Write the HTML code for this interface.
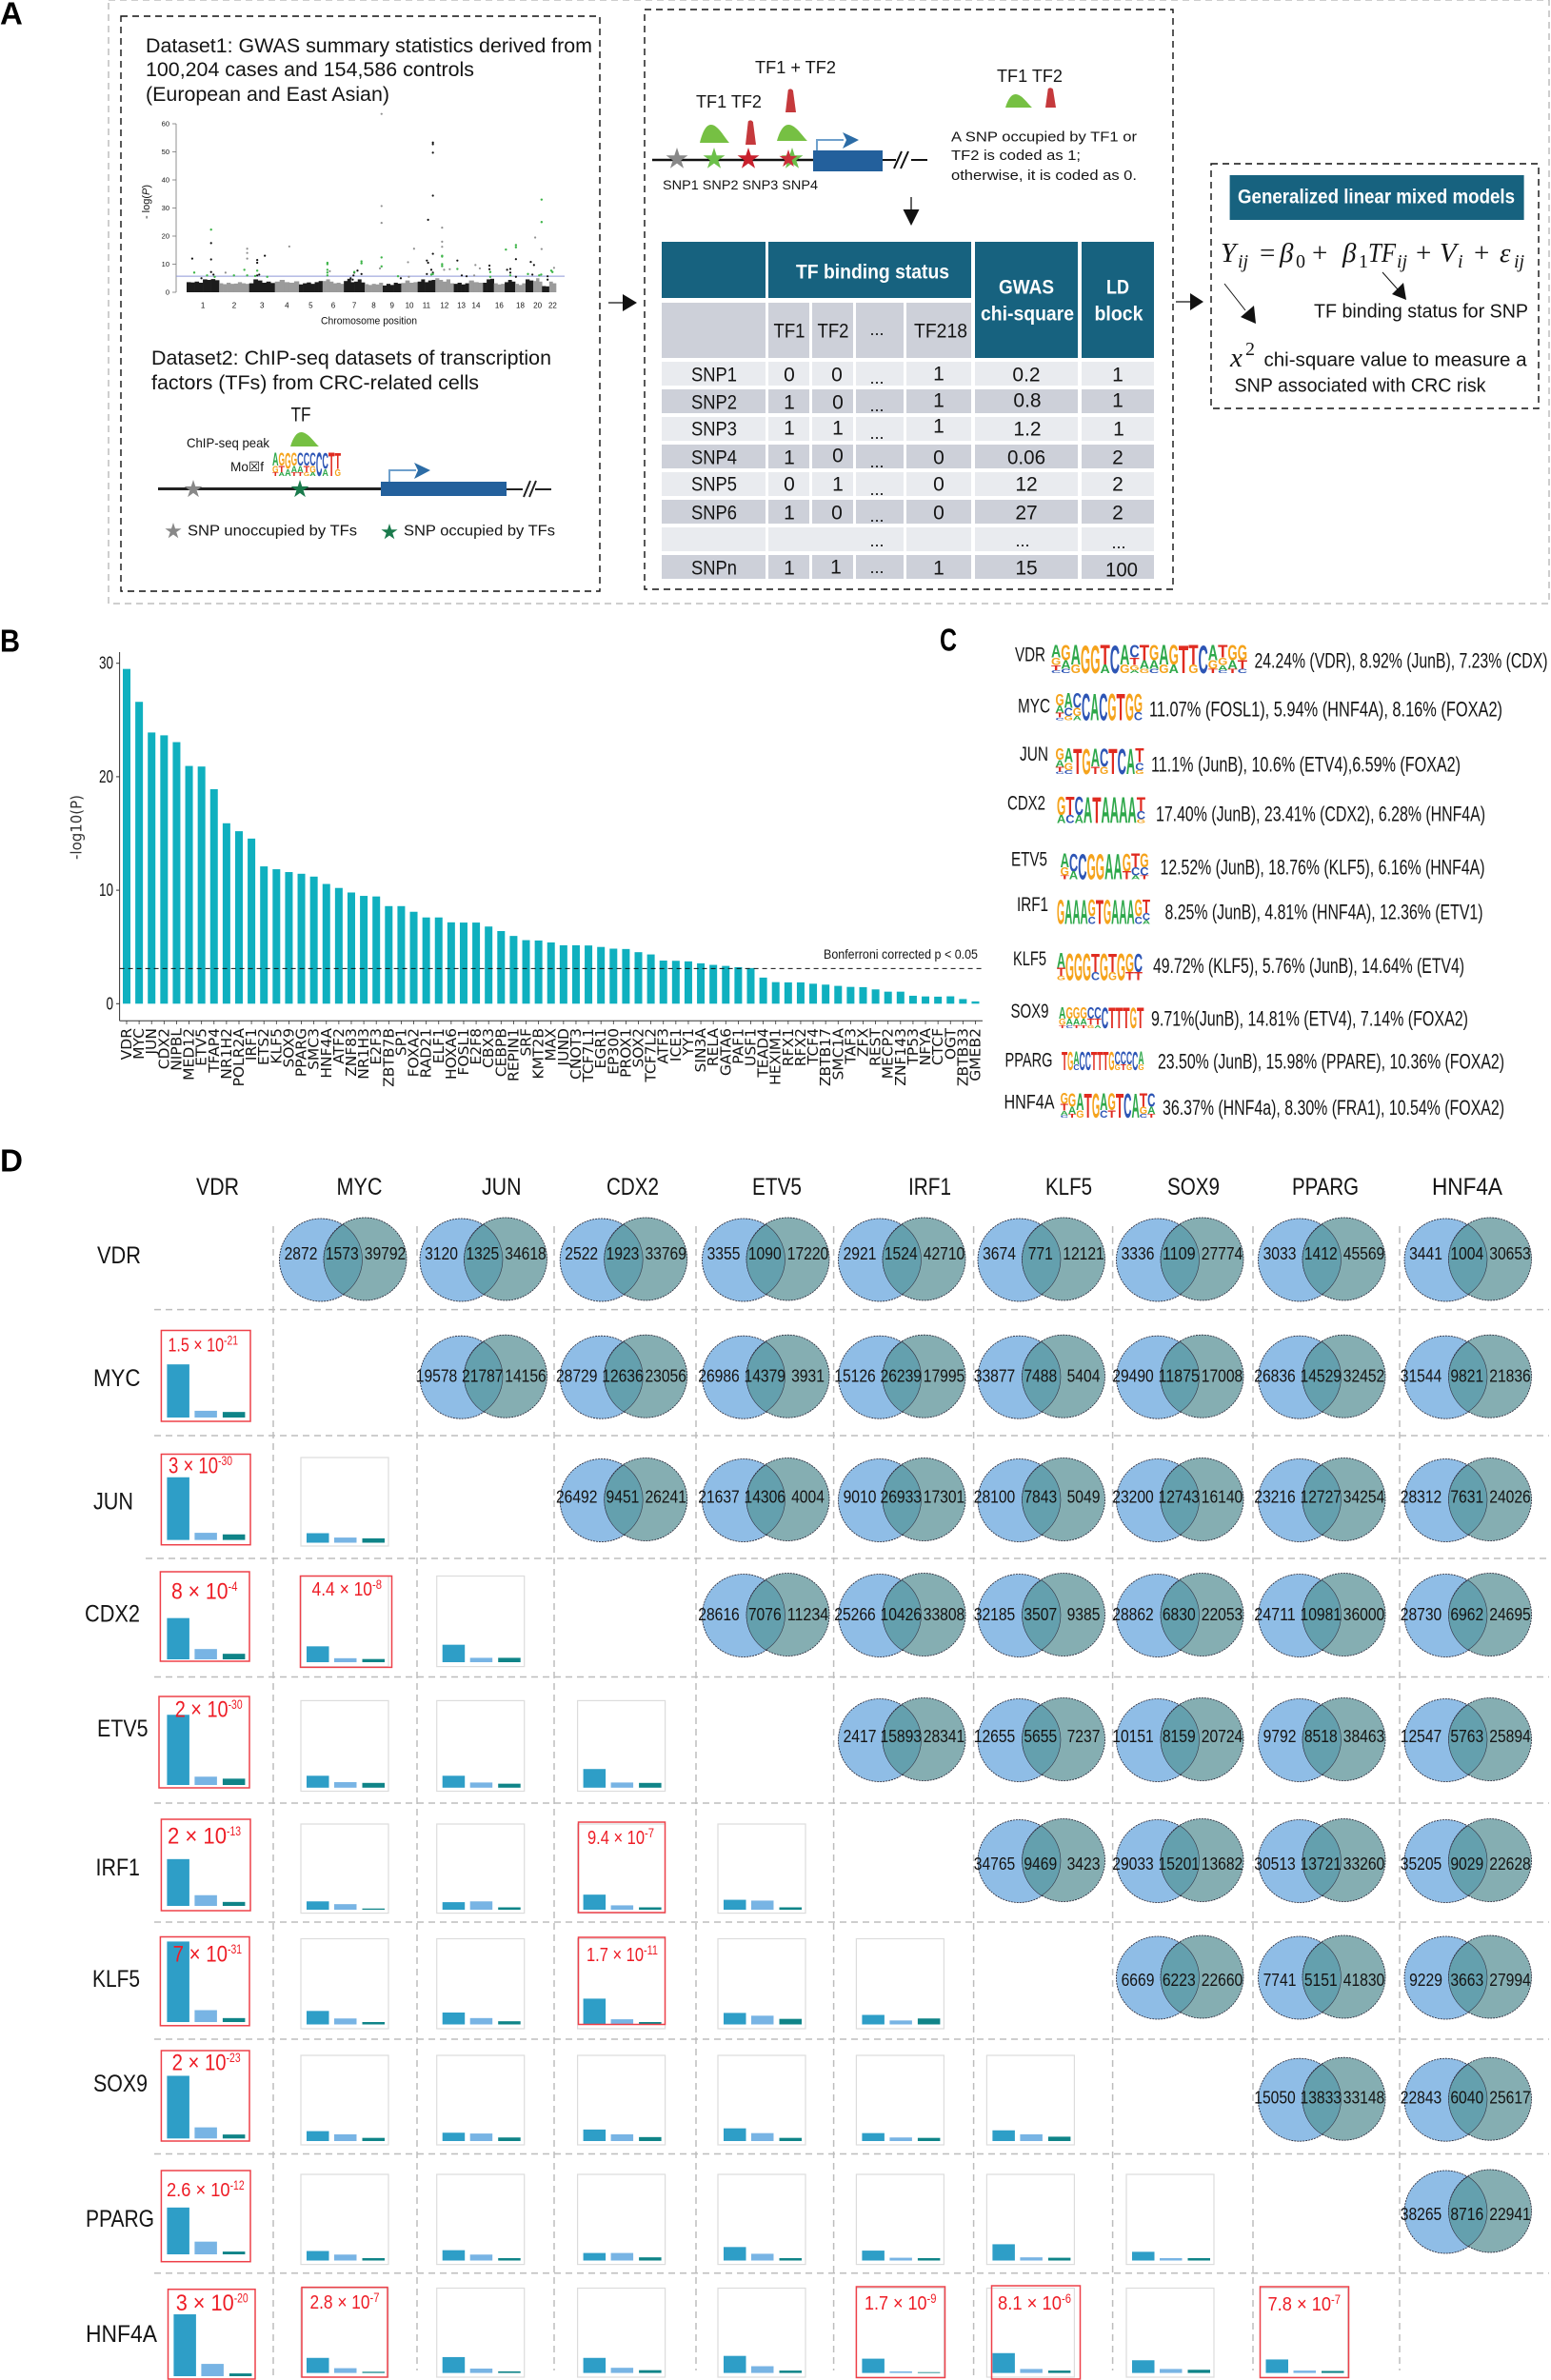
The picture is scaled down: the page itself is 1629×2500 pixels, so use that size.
<!DOCTYPE html>
<html lang="en">
<head>
<meta charset="utf-8">
<title>TF binding enrichment figure</title>
<style>
html,body{margin:0;padding:0;background:#fff}
svg{display:block}
text{font-family:"Liberation Sans","DejaVu Sans",sans-serif;dominant-baseline:central;fill:#141414}
.dj{font-family:"DejaVu Sans",sans-serif}
.m{font-family:"Liberation Serif",serif;font-style:italic;dominant-baseline:alphabetic}
.w{fill:#fff;font-weight:bold}
.c{text-anchor:middle}
.pl{font-weight:bold;fill:#000;font-size:33px}
.grid{stroke:#bdbdbd;stroke-width:1.5;stroke-dasharray:7 5;fill:none}
.box{fill:none;stroke:#111;stroke-width:1.4;stroke-dasharray:7 5}
.h{fill:#17627f}.g{fill:#cdd0d9}.l{fill:#e9ebef}
</style>
</head>
<body>
<svg id="figure" xmlns="http://www.w3.org/2000/svg" width="1629" height="2500" viewBox="0 0 1629 2500">
<defs>
<polygon id="star-shape" points="0,-1 .224,-.309 .951,-.309 .363,.118 .588,.809 0,.382 -.588,.809 -.363,.118 -.951,-.309 -.224,-.309"/>
<path id="green-peak" d="M0 1C.1 .35 .22 0 .38 0C.62 0 .85 .75 1 1Z" fill="#76c043"/>
<path id="red-peak" d="M0 1L.25 .06Q.5 -.04 .72 .08L1 1Z" fill="#c5393c"/>
</defs>
<rect width="1629" height="2500" fill="#fff"/>

<text class="pl" x="0" y="14">A</text>
<text class="pl" x="0" y="673" textLength="21" lengthAdjust="spacingAndGlyphs">B</text>
<text class="pl" x="987" y="672" textLength="18" lengthAdjust="spacingAndGlyphs">C</text>
<text class="pl" x="0" y="1219" textLength="24" lengthAdjust="spacingAndGlyphs">D</text>

<!-- PANEL A -->
<rect class="grid" x="114" y="0" width="1513" height="634"/>
<rect class="box" x="127" y="17" width="503" height="604"/>
<rect class="box" x="677" y="10" width="555" height="609"/>
<rect class="box" x="1272" y="172" width="344" height="257"/>

<text x="153" y="48" font-size="21.5" textLength="469" lengthAdjust="spacingAndGlyphs">Dataset1: GWAS summary statistics derived from</text>
<text x="153" y="73" font-size="21.5" textLength="345" lengthAdjust="spacingAndGlyphs">100,204 cases and 154,586 controls</text>
<text x="153" y="99" font-size="21.5" textLength="256" lengthAdjust="spacingAndGlyphs">(European and East Asian)</text>

<g id="manhattan"></g>
<text x="154" y="212" font-size="11" class="c" transform="rotate(-90 154 212)">- log(<tspan font-style="italic">P</tspan>)</text>
<text x="337" y="337.5" font-size="11" textLength="101" lengthAdjust="spacingAndGlyphs">Chromosome position</text>

<text x="159" y="376" font-size="21.5" textLength="420" lengthAdjust="spacingAndGlyphs">Dataset2: ChIP-seq datasets of transcription</text>
<text x="159" y="402" font-size="21.5" textLength="344" lengthAdjust="spacingAndGlyphs">factors (TFs) from CRC-related cells</text>
<text x="316" y="436" font-size="21" class="c" textLength="21" lengthAdjust="spacingAndGlyphs">TF</text>
<use href="#green-peak" transform="translate(305 454) scale(30 15)"/>
<text x="196" y="465" font-size="14" textLength="87" lengthAdjust="spacingAndGlyphs">ChIP-seq peak</text>
<text x="242" y="490" font-size="14" textLength="35" lengthAdjust="spacingAndGlyphs">Mo&#9746;f</text>
<line x1="166" y1="513.5" x2="400" y2="513.5" stroke="#222" stroke-width="3"/>
<rect x="400" y="506" width="132" height="15" fill="#23609c"/>
<path d="M532 514H549M562 514H579M550 522L557 505M556 522L563 505" stroke="#222" stroke-width="2" fill="none"/>
<path d="M409 506V494H437" stroke="#6fa0cc" stroke-width="2" fill="none"/>
<path d="M435 486L452 494L435 503L439 494Z" fill="#2c6ca6"/>
<use href="#star-shape" fill="#888" transform="translate(203 514) scale(10)"/>
<use href="#star-shape" fill="#1a7a4c" transform="translate(315 514) scale(10)"/>
<use href="#star-shape" fill="#888" transform="translate(182 558) scale(9)"/>
<text x="197" y="558" font-size="16" textLength="178" lengthAdjust="spacingAndGlyphs">SNP unoccupied by TFs</text>
<use href="#star-shape" fill="#1a7a4c" transform="translate(409 559) scale(9)"/>
<text x="424" y="558" font-size="16" textLength="159" lengthAdjust="spacingAndGlyphs">SNP occupied by TFs</text>

<path d="M639 318H656" stroke="#111" stroke-width="1.3"/>
<path d="M654 309L669 318L654 327Z" fill="#111"/>
<path d="M1235 317H1252" stroke="#111" stroke-width="1.3"/>
<path d="M1250 308L1264 317L1250 326Z" fill="#111"/>

<text x="793" y="71" font-size="18" textLength="85" lengthAdjust="spacingAndGlyphs">TF1 + TF2</text>
<text x="731" y="107" font-size="18" textLength="69" lengthAdjust="spacingAndGlyphs">TF1 TF2</text>
<use href="#red-peak" transform="translate(825 93) scale(11 25)"/>
<use href="#green-peak" transform="translate(816 131) scale(32 17)"/>
<use href="#red-peak" transform="translate(783 126) scale(11 26)"/>
<use href="#green-peak" transform="translate(735 131) scale(31 19)"/>
<line x1="685" y1="168" x2="854" y2="168" stroke="#111" stroke-width="2.5"/>
<rect x="854" y="158" width="73" height="22" fill="#23609c"/>
<path d="M927 168H941M957 168H974M939 177L947 159M946 177L954 159" stroke="#111" stroke-width="2" fill="none"/>
<path d="M858 158V147H886" stroke="#6fa0cc" stroke-width="2" fill="none"/>
<path d="M885 139L902 147L885 156L889 147Z" fill="#2c6ca6"/>
<use href="#star-shape" fill="#888" transform="translate(711 167) scale(12)"/>
<use href="#star-shape" fill="#6cc04a" transform="translate(750 167) scale(12)"/>
<use href="#star-shape" fill="#c8202c" transform="translate(786 167) scale(12)"/>
<use href="#star-shape" fill="#6cc04a" transform="translate(832 167) scale(12)"/>
<use href="#star-shape" fill="#c8303a" transform="translate(828 167) scale(10)"/>
<text x="696" y="194" font-size="14" textLength="163" lengthAdjust="spacingAndGlyphs">SNP1 SNP2 SNP3 SNP4</text>
<text x="1047" y="80" font-size="18" textLength="69" lengthAdjust="spacingAndGlyphs">TF1 TF2</text>
<use href="#green-peak" transform="translate(1056 99) scale(28 14)"/>
<use href="#red-peak" transform="translate(1098 92) scale(11 21)"/>
<text x="999" y="144.5" font-size="14.5" textLength="195" lengthAdjust="spacingAndGlyphs">A SNP occupied by TF1 or</text>
<text x="999" y="164" font-size="14.5" textLength="136" lengthAdjust="spacingAndGlyphs">TF2 is coded as 1;</text>
<text x="999" y="185" font-size="14.5" textLength="195" lengthAdjust="spacingAndGlyphs">otherwise, it is coded as 0.</text>
<path d="M957 207V222" stroke="#111" stroke-width="1.3"/>
<path d="M948.500 220H965.500L957 237Z" fill="#111"/>

<g>
<rect class="h" x="695" y="254" width="109" height="59"/>
<rect class="h" x="807" y="254" width="213" height="59"/>
<rect class="h" x="1024" y="254" width="108" height="122"/>
<rect class="h" x="1136" y="254" width="76" height="122"/>
<rect class="g" x="695" y="318" width="109" height="58"/>
<rect class="g" x="807" y="318" width="43" height="58"/>
<rect class="g" x="853" y="318" width="43" height="58"/>
<rect class="g" x="899" y="318" width="50" height="58"/>
<rect class="g" x="952" y="318" width="68" height="58"/>
<text class="w" x="836" y="286" font-size="21" textLength="161" lengthAdjust="spacingAndGlyphs">TF binding status</text>
<text class="w c" x="1078" y="302" font-size="21" textLength="58" lengthAdjust="spacingAndGlyphs">GWAS</text>
<text class="w c" x="1079" y="330" font-size="21" textLength="98" lengthAdjust="spacingAndGlyphs">chi-square</text>
<text class="w c" x="1174" y="302" font-size="21" textLength="24" lengthAdjust="spacingAndGlyphs">LD</text>
<text class="w c" x="1175" y="330" font-size="21" textLength="51" lengthAdjust="spacingAndGlyphs">block</text>
<text class="c" x="829" y="348" font-size="21" textLength="33" lengthAdjust="spacingAndGlyphs">TF1</text>
<text class="c" x="875" y="348" font-size="21" textLength="33" lengthAdjust="spacingAndGlyphs">TF2</text>
<text class="c" x="921" y="346" font-size="18">...</text>
<text class="c" x="988" y="348" font-size="21" textLength="56" lengthAdjust="spacingAndGlyphs">TF218</text>
<g id="table-stripes">
<path class="l" d="M695 380h109v25h-109zM807 380h43v25h-43zM853 380h43v25h-43zM899 380h50v25h-50zM952 380h68v25h-68zM1024 380h108v25h-108zM1136 380h76v25h-76z"/>
<path class="g" d="M695 409h109v25h-109zM807 409h43v25h-43zM853 409h43v25h-43zM899 409h50v25h-50zM952 409h68v25h-68zM1024 409h108v25h-108zM1136 409h76v25h-76z"/>
<path class="l" d="M695 438h109v25h-109zM807 438h43v25h-43zM853 438h43v25h-43zM899 438h50v25h-50zM952 438h68v25h-68zM1024 438h108v25h-108zM1136 438h76v25h-76z"/>
<path class="g" d="M695 467h109v25h-109zM807 467h43v25h-43zM853 467h43v25h-43zM899 467h50v25h-50zM952 467h68v25h-68zM1024 467h108v25h-108zM1136 467h76v25h-76z"/>
<path class="l" d="M695 496h109v25h-109zM807 496h43v25h-43zM853 496h43v25h-43zM899 496h50v25h-50zM952 496h68v25h-68zM1024 496h108v25h-108zM1136 496h76v25h-76z"/>
<path class="g" d="M695 525h109v25h-109zM807 525h43v25h-43zM853 525h43v25h-43zM899 525h50v25h-50zM952 525h68v25h-68zM1024 525h108v25h-108zM1136 525h76v25h-76z"/>
<path class="l" d="M695 554h109v25h-109zM807 554h142v25h-142zM952 554h68v25h-68zM1024 554h108v25h-108zM1136 554h76v25h-76z"/>
<path class="g" d="M695 583h109v25h-109zM807 583h43v25h-43zM853 583h43v25h-43zM899 583h50v25h-50zM952 583h68v25h-68zM1024 583h108v25h-108zM1136 583h76v25h-76z"/>
</g>
<g font-size="21" text-anchor="middle">
<text x="750" y="394" textLength="48" lengthAdjust="spacingAndGlyphs">SNP1</text><text x="829" y="394">0</text><text x="879" y="394">0</text><text x="921" y="397" font-size="18">...</text><text x="986" y="393">1</text><text x="1078" y="394">0.2</text><text x="1174" y="394">1</text>
<text x="750" y="423" textLength="48" lengthAdjust="spacingAndGlyphs">SNP2</text><text x="829" y="423">1</text><text x="880" y="423">0</text><text x="921" y="426" font-size="18">...</text><text x="986" y="421">1</text><text x="1079" y="421">0.8</text><text x="1174" y="421">1</text>
<text x="750" y="451" textLength="48" lengthAdjust="spacingAndGlyphs">SNP3</text><text x="829" y="450">1</text><text x="880" y="450">1</text><text x="921" y="455" font-size="18">...</text><text x="986" y="448">1</text><text x="1079" y="451">1.2</text><text x="1175" y="451">1</text>
<text x="750" y="481" textLength="48" lengthAdjust="spacingAndGlyphs">SNP4</text><text x="829" y="481">1</text><text x="880" y="479">0</text><text x="921" y="485" font-size="18">...</text><text x="986" y="481">0</text><text x="1078" y="481" textLength="40" lengthAdjust="spacingAndGlyphs">0.06</text><text x="1174" y="481">2</text>
<text x="750" y="509" textLength="48" lengthAdjust="spacingAndGlyphs">SNP5</text><text x="829" y="509">0</text><text x="880" y="509">1</text><text x="921" y="514" font-size="18">...</text><text x="986" y="509">0</text><text x="1078" y="509">12</text><text x="1174" y="509">2</text>
<text x="750" y="539" textLength="48" lengthAdjust="spacingAndGlyphs">SNP6</text><text x="829" y="539">1</text><text x="879" y="539">0</text><text x="921" y="542" font-size="18">...</text><text x="986" y="539">0</text><text x="1078" y="539">27</text><text x="1174" y="539">2</text>
<text x="921" y="568" font-size="18">...</text><text x="1074" y="568" font-size="18">...</text><text x="1175" y="570" font-size="18">...</text>
<text x="750" y="597" textLength="48" lengthAdjust="spacingAndGlyphs">SNPn</text><text x="829" y="597">1</text><text x="878" y="596">1</text><text x="921" y="596" font-size="18">...</text><text x="986" y="597">1</text><text x="1078" y="597">15</text><text x="1178" y="599" textLength="34" lengthAdjust="spacingAndGlyphs">100</text>
</g>
</g>

<rect x="1291.600" y="184" width="309" height="47" class="h"/>
<text class="w" x="1300" y="207" font-size="21" textLength="291" lengthAdjust="spacingAndGlyphs">Generalized linear mixed models</text>
<g fill="#222">
<text class="m" x="1282" y="275" font-size="29">Y</text><text class="m" x="1300" y="281" font-size="20">ij</text>
<text class="m" x="1323" y="275" font-size="29" style="font-style:normal">=</text>
<text class="m" x="1344" y="275" font-size="29">β</text><text class="m" x="1361" y="281" font-size="20" style="font-style:normal">0</text>
<text class="m" x="1378" y="275" font-size="29" style="font-style:normal">+</text>
<text class="m" x="1410" y="275" font-size="29">β</text><text class="m" x="1427" y="281" font-size="20" style="font-style:normal">1</text>
<text class="m" x="1437" y="275" font-size="29" textLength="29" lengthAdjust="spacingAndGlyphs">TF</text><text class="m" x="1467" y="281" font-size="20">ij</text>
<text class="m" x="1487" y="275" font-size="29" style="font-style:normal">+</text>
<text class="m" x="1512" y="275" font-size="29">V</text><text class="m" x="1531" y="281" font-size="20">i</text>
<text class="m" x="1548" y="275" font-size="29" style="font-style:normal">+</text>
<text class="m" x="1575" y="275" font-size="29">ε</text><text class="m" x="1590" y="281" font-size="20">ij</text>
</g>
<path d="M1452 286L1468 304" stroke="#111" stroke-width="1"/>
<path d="M1462 309L1474 297L1477 315Z" fill="#111"/>
<path d="M1286 298L1308 326" stroke="#111" stroke-width="1"/>
<path d="M1303 333L1317 321L1319 340Z" fill="#111"/>
<text x="1380" y="327" font-size="20.5" textLength="225" lengthAdjust="spacingAndGlyphs">TF binding status for SNP</text>
<text class="m" x="1292" y="385" font-size="29">x</text><text class="m" x="1308" y="373" font-size="20" style="font-style:normal">2</text>
<text x="1327.500" y="378" font-size="20.5" textLength="276" lengthAdjust="spacingAndGlyphs">chi-square value to measure a</text>
<text x="1296.500" y="405" font-size="20.5" textLength="264" lengthAdjust="spacingAndGlyphs">SNP associated with CRC risk</text>

<!-- PANEL B -->
<g id="panel-b"></g>
<text class="dj c" x="80" y="869" font-size="16" textLength="68" lengthAdjust="spacingAndGlyphs" transform="rotate(-90 80 869)" style="fill:#333">-log10(P)</text>
<text x="865" y="1002" font-size="14" textLength="162" lengthAdjust="spacingAndGlyphs">Bonferroni corrected p &lt; 0.05</text>

<!-- PANEL C -->
<g id="motifs"></g>
<g font-size="22">
<text x="1066" y="688" textLength="32" lengthAdjust="spacingAndGlyphs" font-size="21">VDR</text>
<text x="1317.500" y="694" textLength="308" lengthAdjust="spacingAndGlyphs">24.24% (VDR), 8.92% (JunB), 7.23% (CDX)</text>
<text x="1069" y="742" textLength="34" lengthAdjust="spacingAndGlyphs" font-size="21">MYC</text>
<text x="1207" y="745" textLength="371" lengthAdjust="spacingAndGlyphs">11.07% (FOSL1), 5.94% (HNF4A), 8.16% (FOXA2)</text>
<text x="1071" y="792.500" textLength="30" lengthAdjust="spacingAndGlyphs" font-size="21">JUN</text>
<text x="1209" y="803" textLength="325" lengthAdjust="spacingAndGlyphs">11.1% (JunB), 10.6% (ETV4),6.59% (FOXA2)</text>
<text x="1058" y="844" textLength="40" lengthAdjust="spacingAndGlyphs" font-size="21">CDX2</text>
<text x="1214" y="855" textLength="346" lengthAdjust="spacingAndGlyphs">17.40% (JunB), 23.41% (CDX2), 6.28% (HNF4A)</text>
<text x="1062" y="903" textLength="38" lengthAdjust="spacingAndGlyphs" font-size="21">ETV5</text>
<text x="1218.500" y="911" textLength="341" lengthAdjust="spacingAndGlyphs">12.52% (JunB), 18.76% (KLF5), 6.16% (HNF4A)</text>
<text x="1068" y="950.500" textLength="33" lengthAdjust="spacingAndGlyphs" font-size="21">IRF1</text>
<text x="1223.500" y="958" textLength="334" lengthAdjust="spacingAndGlyphs">8.25% (JunB), 4.81% (HNF4A), 12.36% (ETV1)</text>
<text x="1064" y="1007.500" textLength="35" lengthAdjust="spacingAndGlyphs" font-size="21">KLF5</text>
<text x="1211" y="1014.500" textLength="327" lengthAdjust="spacingAndGlyphs">49.72% (KLF5), 5.76% (JunB), 14.64% (ETV4)</text>
<text x="1061.500" y="1062.500" textLength="40" lengthAdjust="spacingAndGlyphs" font-size="21">SOX9</text>
<text x="1209" y="1070" textLength="333" lengthAdjust="spacingAndGlyphs">9.71%(JunB), 14.81% (ETV4), 7.14% (FOXA2)</text>
<text x="1055.500" y="1114" textLength="50" lengthAdjust="spacingAndGlyphs" font-size="21">PPARG</text>
<text x="1216" y="1115" textLength="364" lengthAdjust="spacingAndGlyphs">23.50% (JunB), 15.98% (PPARE), 10.36% (FOXA2)</text>
<text x="1054.500" y="1158" textLength="53" lengthAdjust="spacingAndGlyphs" font-size="21">HNF4A</text>
<text x="1221" y="1163.500" textLength="359" lengthAdjust="spacingAndGlyphs">36.37% (HNF4a), 8.30% (FRA1), 10.54% (FOXA2)</text>
</g>

<!-- PANEL D headers -->
<g font-size="25">
<text x="206" y="1247" textLength="45" lengthAdjust="spacingAndGlyphs">VDR</text>
<text x="353.500" y="1247" textLength="48" lengthAdjust="spacingAndGlyphs">MYC</text>
<text x="506" y="1247" textLength="41.500" lengthAdjust="spacingAndGlyphs">JUN</text>
<text x="637" y="1247" textLength="55" lengthAdjust="spacingAndGlyphs">CDX2</text>
<text x="790" y="1247" textLength="52" lengthAdjust="spacingAndGlyphs">ETV5</text>
<text x="954" y="1247" textLength="45" lengthAdjust="spacingAndGlyphs">IRF1</text>
<text x="1098" y="1247" textLength="49" lengthAdjust="spacingAndGlyphs">KLF5</text>
<text x="1226" y="1247" textLength="55" lengthAdjust="spacingAndGlyphs">SOX9</text>
<text x="1357" y="1247" textLength="70" lengthAdjust="spacingAndGlyphs">PPARG</text>
<text x="1504" y="1247" textLength="74" lengthAdjust="spacingAndGlyphs">HNF4A</text>
</g>
<g font-size="25">
<text x="102" y="1319" textLength="46" lengthAdjust="spacingAndGlyphs">VDR</text>
<text x="98" y="1448" textLength="49.500" lengthAdjust="spacingAndGlyphs">MYC</text>
<text x="98" y="1577.500" textLength="42" lengthAdjust="spacingAndGlyphs">JUN</text>
<text x="89" y="1695.500" textLength="58" lengthAdjust="spacingAndGlyphs">CDX2</text>
<text x="102" y="1816" textLength="53.500" lengthAdjust="spacingAndGlyphs">ETV5</text>
<text x="100.500" y="1962" textLength="46.500" lengthAdjust="spacingAndGlyphs">IRF1</text>
<text x="97" y="2079" textLength="50" lengthAdjust="spacingAndGlyphs">KLF5</text>
<text x="98" y="2189" textLength="57" lengthAdjust="spacingAndGlyphs">SOX9</text>
<text x="90" y="2331" textLength="72" lengthAdjust="spacingAndGlyphs">PPARG</text>
<text x="90" y="2452" textLength="75" lengthAdjust="spacingAndGlyphs">HNF4A</text>
</g>
<g id="matrix"></g>
</svg>

<script>
/* ---------- Manhattan plot data ---------- */
const chromNames = ["1","2","3","4","5","6","7","8","9","10","11","12","13","14","","16","","18","","20","","22"];
const chromLengths = [81,75,64,60,59,53,52,45,46,41,44,46,38,35,27,27,26,26,19,22,18,17];
const chromSkyline = [
  [3.6,3.5,3.8,3.4,4.6,4.4,4.7,4.3],[3.2,2.9,3.4,3,3.1,3.6,3.2,3],[3.2,4.6,4.2,3.4,3.8,3.3],
  [3.8,4.4,3.6,3.4,3.9],[2.8,3.2,3.5,3,3.6,4],[4,4.6,3.8,3.2,3.4,3],[4,4.8,3.6,3.8,4.6,3.5],
  [2.9,2.6,3,2.8,3.4],[2.4,3,2.6,3.4,3.1],[3.3,4.2,3.4,3.6],[3.8,4.6,3.6,4.2,4.4],[5,4.4,3.8,4.6,3.2],
  [3,3.4,2.8,3.2],[4.2,3.6,3.4],[3.4,4.6,4.8],[3.2,2.8,3],[3.6,4.4,3.8],[3,2.6,3.2],[4.6,4.2],[4,5,3.8],[2.2,2.1],[3.8,3.2]];
const manhattanTicks = [0,10,20,30,40,50,60];
const suggestiveLine = 5.7;
const blackPos = [14,61,61,61,67,37,176,176,195,176,181,409,416,418,426,436,414,534,599,602,602,614,614,614,614,614,610,614,599,675,686,698,755,755,799,807,807,821,821,858,866,862,900,900];
const blackLogP = [12,17.5,11.7,7.2,6.3,5,11.5,10.5,13,6,6.3,5,6,7,7.7,6.5,4.5,5,11.3,10.5,25.8,53.3,52.7,49.7,34.4,13.7,8,7,6.5,11.3,6,5.7,9.5,8.2,8,8.3,7,11.8,5.5,10.8,9.7,6.3,5.7,4.5];
const greyPos = [97,151,151,151,256,357,486,486,482,486,552,567,554,637,637,637,642,656,720,731,717,869,885,916];
const greyLogP = [7,15.5,14,12,16.3,7.5,30.7,24.7,8.5,63.5,10.7,15.5,5.5,23,18,16.2,8,8.2,9.7,8.5,6,19.5,15.4,8.7];
const greenPos = [19,61,51,70,118,144,151,176,171,201,351,351,351,351,351,418,436,436,486,486,527,614,610,637,637,637,637,675,757,757,796,807,821,821,851,885,885,879,884,909,912];
const greenLogP = [7,22.3,6,5.5,6,8,6,7.7,5.8,5.5,10.5,10,8,7,6,7.2,11,10.3,12.4,9.2,5.7,6.5,6.3,13,12.7,10,9.3,8.3,7.2,5.5,15.2,6,16.8,16,6.5,33,25,6,6.3,7.7,7.2];

/* ---------- Panel B data ---------- */
const tfNames = ["VDR","MYC","JUN","CDX2","NIPBL","MED12","ETV5","TFAP4","NR1H2","POLR2A","IRF1","ETS2","KLF5","SOX9","PPARG","SMC3","HNF4A","ATF2","ZNF83","NR1H3","E2F3","ZBTB7B","SP1","FOXA2","RAD21","ELF1","HOXA6","FOSL1","E2F8","CBX3","CEBPB","REPIN1","SRF","KMT2B","MAX","JUND","CNOT3","TCF7L1","EGR1","EP300","PROX1","SOX2","TCF7L2","ATF3","ICE1","YY1","SIN3A","RELA","GATA6","PAF1","USF1","TEAD4","HEXIM1","RFX1","RFX2","TCF4","ZBTB17","SMC1A","TAF3","ZFX","REST","MECP2","ZNF143","TP53","NFYA","CTCF","OGT","ZBTB33","GMEB2"];
const tfLogP = [29.5,26.6,23.9,23.65,23.05,20.95,20.9,18.9,15.9,15.2,14.55,12.1,11.85,11.6,11.45,11.2,10.55,10.2,9.8,9.5,9.45,8.6,8.6,8.1,7.6,7.6,7.17,7.15,7.15,6.8,6.4,5.97,5.6,5.57,5.4,5.15,5.15,5.13,5,4.85,4.82,4.54,4.34,3.8,3.78,3.73,3.56,3.42,3.33,3.22,3.14,2.3,1.9,1.88,1.88,1.76,1.68,1.57,1.48,1.46,1.26,1.06,1.06,0.7,0.64,0.62,0.65,0.41,0.2];
const bTicks = [0,10,20,30];
const bonferroniLine = 3.1;

/* ---------- Panel C data (columns list letters top to bottom) ---------- */
const motifVDR = ["AGTC","GAC","AG","G","G","TA","C","AG","CTGA","TAG","GAC","AG","GA","T","TG","C","AGT","TGAC","GAT","GTC"];
const motifMYC = ["GATC","ACG","CGA","C","A","C","G","T","G","GC"];
const motifJUN = ["GATC","AGC","T","G","AT","CG","T","C","A","TCG"];
const motifCDX2 = ["GA","TC","CA","A","T","A","A","A","A","TCG"];
const motifETV5 = ["AGT","CA","C","G","G","A","A","GT","TCA","GCT"];
const motifIRF1 = ["G","A","A","A","GC","T","G","A","A","A","GC","TCA"];
const motifKLF5 = ["ATG","G","G","G","TC","G","TG","G","GT","CT"];
const motifSOX9 = ["AGT","GAC","GAT","GAT","CTG","CTA","C","T","T","T","G","T"];
const motifPPARG = ["T","G","AC","C","C","T","T","T","G","CG","CT","CG","C","AG"];
const motifHNF4A = ["GTAC","GAT","AG","T","G","AC","GT","T","C","A","TGC","CAT"];
const motifPanelA = ["AGT","GTA","GA","GAT","CAT","CTG","CGA","C","CA","T","TG"];

/* ---------- Panel D data ---------- */
const vennLeft = [[2872,3120,2522,3355,2921,3674,3336,3033,3441],[19578,28729,26986,15126,33877,29490,26836,31544],[26492,21637,9010,28100,23200,23216,28312],[28616,25266,32185,28862,24711,28730],[2417,12655,10151,9792,12547],[34765,29033,30513,35205],[6669,7741,9229],[15050,22843],[38265]];
const vennOverlap = [[1573,1325,1923,1090,1524,771,1109,1412,1004],[21787,12636,14379,26239,7488,11875,14529,9821],[9451,14306,26933,7843,12743,12727,7631],[7076,10426,3507,6830,10981,6962],[15893,5655,8159,8518,5763],[9469,15201,13721,9029],[6223,5151,3663],[13833,6040],[8716]];
const vennRight = [[39792,34618,33769,17220,42710,12121,27774,45569,30653],[14156,23056,3931,17995,5404,17008,32452,21836],[26241,4004,17301,5049,16140,34254,24026],[11234,33808,9385,22053,36000,24695],[28341,7237,20724,38463,25894],[3423,13682,33260,22628],[22660,41830,27994],[33148,25617],[22941]];
const pairBarA = [[134],[158,24],[104,40,44],[177,30,30,47],[118,21,19,38,25],[203,34,30,65,29,24],[158,25,21,29,32,20,27],[118,24,26,19,34,25,41,22],[156,38,40,38,43,36,50,32,34]];
const pairBarB = [[17],[18,13],[26,10,11],[21,14,13,13],[27,14,21,11,23],[30,15,16,13,22,10],[28,17,19,17,20,9,17],[32,15,15,19,17,7,8,6],[31,12,11,13,17,4,10,10,6]];
const pairBarC = [[14],[14,11],[14,8,11],[16,12,10,12],[10,3,6,6,6],[10,6,8,6,14,15],[10,8,9,10,8,8,11],[7,6,6,8,6,6,7,6],[7,3,4,7,6,2,6,8,5]];
const pMantissa = ["1.5","3","8","4.4","2","2","9.4","7","1.7","2","2.6","3","2.8","1.7","8.1","7.8"];
const pExponent = ["-21","-30","-4","-8","-30","-13","-7","-31","-11","-23","-12","-20","-7","-9","-6","-7"];
const pRowIndex = [0,1,2,2,3,4,4,5,5,6,7,8,8,8,8,8];
const pColIndex = [0,0,0,1,0,0,3,0,3,0,0,0,1,5,6,8];

/* ---------- layout constants ---------- */
const NS = "http://www.w3.org/2000/svg";
function mk(tag, parent, attrs) {
  const el = document.createElementNS(NS, tag);
  for (const k in attrs) el.setAttribute(k, attrs[k]);
  parent.appendChild(el);
  return el;
}
function mkText(parent, str, attrs) {
  const el = mk("text", parent, attrs);
  el.textContent = str;
  return el;
}

/* ---------- draw Manhattan ---------- */
(function () {
  const g = document.getElementById("manhattan");
  const mx = v => 196 + v * (388 / 921);
  const my = v => 307 - v * 2.95;
  let start = 0;
  chromLengths.forEach((len, i) => {
    const fill = i % 2 === 0 ? "#1c1c1c" : "#9b9b9b";
    const vals = chromSkyline[i];
    vals.forEach((h, j) => {
      const x0 = mx(start + len * j / vals.length), x1 = mx(start + len * (j + 1) / vals.length);
      const el = mk("rect", g, { x: x0, y: my(h), width: x1 - x0 + 0.3, height: my(0) - my(h), fill: fill });
      
      
    });
    if (chromNames[i]) {
      const lab = mkText(g, chromNames[i], { x: mx(start + len / 2), y: 321, "font-size": 8, "text-anchor": "middle" });
      
      
    }
    start += len;
  });
  const axis = mk("line", g, { x1: 185, y1: my(60), x2: 185, y2: my(0), stroke: "#777", "stroke-width": 0.8 });
  
  
  manhattanTicks.forEach(t => {
    const tick = mk("line", g, { x1: 181, y1: my(t), x2: 185, y2: my(t), stroke: "#777", "stroke-width": 0.8 });
    
    
    const lab = mkText(g, String(t), { x: 178, y: my(t), "font-size": 7.5, "text-anchor": "end" });
    
    
  });
  const sl = mk("line", g, { x1: 185, y1: my(suggestiveLine), x2: 593, y2: my(suggestiveLine), stroke: "#8e97d6", "stroke-width": 1 });
  
  
  greyPos.forEach((p, i) => {
    const d = mk("circle", g, { cx: mx(p), cy: my(greyLogP[i]), r: 1.1, fill: "#8f8f8f" });
    
    
  });
  blackPos.forEach((p, i) => {
    const d = mk("circle", g, { cx: mx(p), cy: my(blackLogP[i]), r: 1.1, fill: "#111" });
    
    
  });
  greenPos.forEach((p, i) => {
    const d = mk("circle", g, { cx: mx(p), cy: my(greenLogP[i]), r: 1.2, fill: "#3fb54a" });
    
    
  });
})();

/* ---------- draw panel B ---------- */
(function () {
  const g = document.getElementById("panel-b");
  const bx = i => 133 + i * 13.11;
  const by = v => 1054.3 - v * 11.92;
  const ya = mk("line", g, { x1: 125.6, y1: 685, x2: 125.6, y2: 1072.3, stroke: "#333", "stroke-width": 1 });
  
  
  const xa = mk("line", g, { x1: 125.6, y1: 1072.3, x2: 1032, y2: 1072.3, stroke: "#333", "stroke-width": 1 });
  
  
  bTicks.forEach(t => {
    const tk = mk("line", g, { x1: 122, y1: by(t), x2: 125.6, y2: by(t), stroke: "#333", "stroke-width": 1 });
    
    
    const s = String(t);
    const lb = mkText(g, s, { x: 119, y: by(t), "font-size": 18, "text-anchor": "end", textLength: s.length * 7.5, lengthAdjust: "spacingAndGlyphs" });
    
    
  });
  tfLogP.forEach((v, i) => {
    const r = mk("rect", g, { x: bx(i) - 4, y: by(v), width: 8, height: by(0) - by(v), fill: "#0fb0bf" });
    
    
  });
  tfNames.forEach((n, i) => {
    const tk = mk("line", g, { x1: bx(i), y1: 1072.3, x2: bx(i), y2: 1076, stroke: "#333", "stroke-width": 0.8 });
    
    
    const lb = mkText(g, n, { x: bx(i), y: 1080, "font-size": 15.5, "class": "dj", "text-anchor": "end", transform: "rotate(-90 " + bx(i) + " 1080)" });
    
    
  });
  const bl = mk("line", g, { x1: 125.6, y1: by(bonferroniLine), x2: 1032, y2: by(bonferroniLine), stroke: "#111", "stroke-width": 1, "stroke-dasharray": "5 4" });
  
  
})();

/* ---------- draw motif logos ---------- */
(function () {
  const g = document.getElementById("motifs");
  const colors = { A: "#2ea84a", C: "#2d55b5", G: "#f5a31c", T: "#e02b20" };
  const widths = { A: 7.22, C: 7.22, G: 7.78, T: 6.11 };
  const weights = { 1: [1], 2: [.7, .3], 3: [.55, .3, .15], 4: [.45, .27, .18, .1] };
  function logo(cols, x, y, w, h) {
    const cw = w / cols.length;
    cols.forEach((col, i) => {
      let top = y;
      const wt = weights[col.length];
      col.split("").forEach((ch, j) => {
        const lh = h * wt[j];
        const sx = cw / widths[ch], sy = lh / 7.16;
        const t = mkText(g, ch, { x: 0, y: 0, "font-size": 10, "font-weight": "bold", style: "dominant-baseline:alphabetic;fill:" + colors[ch],
          transform: "translate(" + (x + i * cw) + " " + (top + lh) + ") scale(" + sx + " " + sy + ")" });
        
        
        top += lh;
      });
    });
  }
  logo(motifPanelA, 286, 475, 72, 25);
  logo(motifVDR, 1104, 677, 206, 30);
  logo(motifMYC, 1108.5, 728, 91.5, 28.5);
  logo(motifJUN, 1108.5, 785.6, 93, 27.4);
  logo(motifCDX2, 1110, 836.5, 93, 28);
  logo(motifETV5, 1113.6, 896, 93, 27.5);
  logo(motifIRF1, 1110, 944.5, 98, 26);
  logo(motifKLF5, 1110, 1001, 90, 28.5);
  logo(motifSOX9, 1112, 1057.5, 89.5, 22.5);
  logo(motifPPARG, 1115, 1104, 86.5, 20);
  logo(motifHNF4A, 1113.6, 1148, 99.8, 26);
})();

/* ---------- draw matrix ---------- */
(function () {
  const g = document.getElementById("matrix");
  [287, 438, 582, 731, 875.6, 1022.6, 1168.6, 1316, 1470].forEach((x, i) => {
    const v = mk("line", g, { x1: x, y1: 1288, x2: x, y2: i === 0 || i === 5 ? 2500 : 2490, "class": "grid" });
    
    
  });
  [1375.6, 1508, 1637, 1761.5, 1894, 2019, 2142, 2262.5, 2387.7].forEach((y, i) => {
    const h = mk("line", g, { x1: i === 2 ? 153 : 162, y1: y, x2: 1627, y2: y, "class": "grid" });
    
    
  });

  /* venn diagrams */
  const vennCx = [337, 484.5, 631.7, 781, 924, 1070.5, 1216, 1365, 1518.5];
  const vennCy = [1323.5, 1446.7, 1576, 1697, 1828, 1955, 2077.5, 2205.7, 2323.5];
  const vennTy = [1317, 1445.5, 1572.6, 1696, 1824, 1958, 2080, 2203.6, 2326];
  const R = 43.5, D = 46.5;
  const H = Math.sqrt(R * R - D * D / 4);
  vennLeft.forEach((row, r) => {
    row.forEach((lv, k) => {
      const c = r + k;
      const cx = vennCx[c], cy = vennCy[r], xm = cx + D / 2;
      const a = mk("circle", g, { cx: cx, cy: cy, r: R, fill: "#8fbde6", stroke: "#223", "stroke-width": 0.8, "stroke-dasharray": "2 1" });
      
      
      const b = mk("circle", g, { cx: cx + D, cy: cy - 1, r: R, fill: "#85aeb2", stroke: "#223", "stroke-width": 0.8, "stroke-dasharray": "2 1" });
      
      
      const o = mk("path", g, { d: "M" + xm + " " + (cy - 0.5 - H) + "A" + R + " " + R + " 0 0 1 " + xm + " " + (cy - 0.5 + H) + "A" + R + " " + R + " 0 0 1 " + xm + " " + (cy - 0.5 - H) + "Z", fill: "#64a0ae", stroke: "#334", "stroke-width": 0.6 });
      
      
      const ty = vennTy[r];
      const sL = String(lv), sM = String(vennOverlap[r][k]), sR = String(vennRight[r][k]);
      const t1 = mkText(g, sL, { x: cx - (sL.length > 4 ? 26 : 21), y: ty, "font-size": 18, "text-anchor": "middle", textLength: sL.length * 8.7, lengthAdjust: "spacingAndGlyphs" });
      
      
      const t2 = mkText(g, sM, { x: xm - 1, y: ty, "font-size": 18, "text-anchor": "middle", textLength: sM.length * 8.7, lengthAdjust: "spacingAndGlyphs" });
      
      
      const t3 = mkText(g, sR, { x: cx + D + 21, y: ty, "font-size": 18, "text-anchor": "middle", textLength: sR.length * 8.7, lengthAdjust: "spacingAndGlyphs" });
      
      
    });
  });

  /* lower-triangle bar frames */
  const frameLeft = [169.4, 316, 458.7, 606.6, 754, 899.4, 1036.4, 1183, 1323.5];
  const frameTop = [1397.5, 1531, 1655.5, 1786.4, 1916, 2036.5, 2159, 2284, 2403.5];
  const frameBottom = [1493, 1624, 1750.6, 1881.5, 2009.6, 2131, 2253, 2378.6, 2497];
  const baseVdr = [1489, 1617.6, 1743, 1875, 2002, 2124, 2246.3, 2368, 2496];
  const baseOther = [1489, 1620.5, 1746, 1877.8, 2006, 2126.5, 2249, 2374.5, 2492.6];
  const h = v => v / 2.4;
  const barOffsets = [6, 35, 64.5];
  const barFills = ["#2e9ec7", "#78b4e4", "#0f8488"];
  pairBarA.forEach((row, r) => {
    row.forEach((va, c) => {
      const dx = (r === 8 && c === 0) ? 7 : 0;
      const x0 = frameLeft[c] + dx;
      if (c > 0) {
        const f = mk("rect", g, { x: x0, y: frameTop[r], width: 92, height: frameBottom[r] - frameTop[r], fill: "#fff", stroke: "#dcdcdc", "stroke-width": 1.2 });
        
        
      }
      const base = c === 0 ? baseVdr[r] : baseOther[r];
      [va, pairBarB[r][c], pairBarC[r][c]].forEach((v, b) => {
        const bar = mk("rect", g, { x: x0 + barOffsets[b], y: base - h(v), width: 23.5, height: h(v), fill: barFills[b] });
        
        
      });
    });
  });

  /* red significance boxes */
  const pBoxes = [
    [169.4,1397.5,263,1493,176.5,250,1413.5],[169.4,1527.5,263,1622.7,177,244,1540],[168.4,1651,262,1745,180,249.5,1672],
    [315.5,1655.5,411.5,1751.4,327.5,401,1670],[167,1782,262,1878,183.7,254.6,1796],[169.4,1911,263,2007,176,253,1929],
    [607.5,1914,698.5,2009,617,687,1931],[168.4,2034.5,262,2127.8,181.6,254,2053],[607.5,2035,698.5,2126.5,616,691,2054],
    [169.4,2154,262,2249,180.6,252.6,2167],[169.4,2280,263,2375.7,175,256.6,2301],[176.5,2404.7,268,2499,184.7,260.7,2419.6],
    [317,2402.6,407,2497,325.5,398.5,2419],[899.4,2402,992.5,2497.5,908,983.5,2420],[1041.5,2401,1134.5,2499,1048,1125,2420],[1323.5,2402,1416.5,2497.5,1331.5,1408,2421]
  ];
  pMantissa.forEach((m, i) => {
    const b = pBoxes[i];
    const row = pRowIndex[i], col = pColIndex[i];
    const fr = mk("rect", g, { x: b[0], y: b[1], width: b[2] - b[0], height: b[3] - b[1], fill: "none", stroke: "#ee4049", "stroke-width": 1.5 });
    
    
    const e = pExponent[i];
    const supW = e.length * 5;
    const baseStr = m + " \u00d7 10";
    const t = mkText(g, baseStr, { x: b[4], y: b[6], "font-size": m.length === 1 ? 24 : 20, textLength: b[5] - b[4] - supW, lengthAdjust: "spacingAndGlyphs", style: "fill:#ee1c25" });
    
    
    const s = mkText(g, e, { x: b[5] - supW, y: b[6] - 6, "font-size": 14, textLength: supW, lengthAdjust: "spacingAndGlyphs", style: "fill:#ee1c25" });
    
    
  });
})();
</script>
</body>
</html>
